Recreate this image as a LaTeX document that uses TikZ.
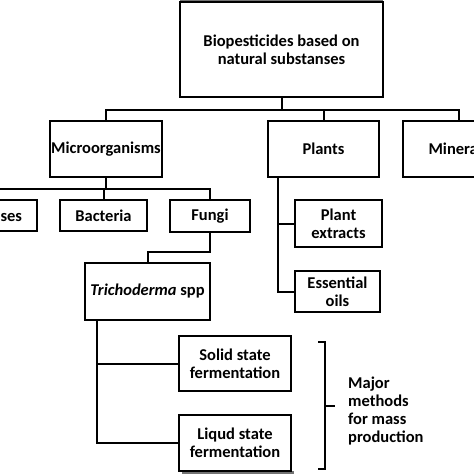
\documentclass[tikz,border=0pt]{standalone}
\usepackage{fontspec}
\setmainfont{Carlito}
\begin{document}
\begin{tikzpicture}[x=1pt, y=-1pt]

    \tikzstyle{box} = [draw, line width=2pt, inner sep=0pt, align=center, font=\fontsize{16.5}{17.7}\selectfont\bfseries]
    \tikzstyle{link} = [line width=2pt]
    \tikzstyle{shade} = [fill=black!55]

    \useasboundingbox (0,0) rectangle (474,474);

    % leftover shadows at the edges
    \fill[shade] (180,0) rectangle (383,2.5);
    \fill[shade] (182,471) rectangle (294,474);

    \node[box, minimum width=203, minimum height=95] (top) at (281.5,49.5) {Biopesticides based on\\natural substanses};

    \node[box, minimum width=112, minimum height=56] (micro) at (106,149) {Microorganisms};
    \node[box, minimum width=111, minimum height=56] (plants) at (323.5,149) {Plants};
    \node[box, minimum width=111, minimum height=56] (minerals) at (458.5,149) {Minerals};

    \node[box, minimum width=80, minimum height=31] (viruses) at (-3,215.5) {Viruses};
    \node[box, minimum width=87, minimum height=31] (bacteria) at (103.5,215.5) {Bacteria};
    \node[box, minimum width=80, minimum height=32] (fungi) at (210,216) {Fungi};

    \node[box, minimum width=125, minimum height=57] (tricho) at (147.5,291.5) {\itshape Trichoderma\/\upshape{} spp};

    \node[box, minimum width=87, minimum height=47] (extracts) at (338.5,223.5) {Plant\\extracts};
    \node[box, minimum width=85, minimum height=41] (oils) at (337.5,291.5) {Essential\\oils};

    \node[box, minimum width=112, minimum height=55] (solid) at (235,363.5) {Solid state\\fermentation};
    \node[box, minimum width=112, minimum height=56] (liquid) at (235,443) {Liqud state\\fermentation};

    % tree
    \draw[link] (top.south) -- ++(0,12) -| (micro.north);
    \draw[link] (top.south) ++(0,12) -| (plants.north);
    \draw[link] (top.south) ++(0,12) -| (minerals.north);

    \draw[link] (micro.south) -- ++(0,11) -| (viruses.north);
    \draw[link] (micro.south) ++(0,11) -| (bacteria.north);
    \draw[link] (micro.south) ++(0,11) -| (fungi.north);

    \draw[link] (fungi.south) -- ++(0,19) -| (tricho.north);

    \draw[link] (plants.south west) ++(11,0) |- (extracts.west);
    \draw[link] (plants.south west) ++(11,0) |- (oils.west);

    \draw[link] (tricho.south west) ++(13,0) |- (solid.west);
    \draw[link] (tricho.south west) ++(13,0) |- (liquid.west);

    % bracket
    \coordinate (brtop) at (318,342);
    \coordinate (brbot) at (318,469);
    \draw[line width=1.2pt] (brtop) -- ++(7,0) |- (brbot);
    \draw[line width=1.2pt] (325,406) -- (335,406);

    \node[anchor=west, inner sep=0pt, align=left, font=\fontsize{16.5}{18}\selectfont\bfseries] (major) at (348,411) {Major\\methods\\for mass\\production};
\end{tikzpicture}
\end{document}
